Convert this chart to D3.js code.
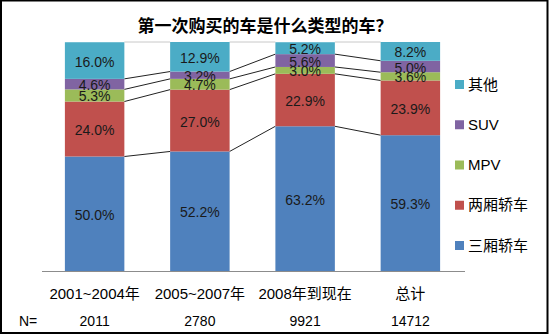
<!DOCTYPE html>
<html lang="zh-cn">
<head>
  <meta charset="UTF-8">
  <title>第一次购买的车是什么类型的车？</title>
  <script src="https://d3js.org/d3.v7.min.js"></script>
  <style>
    body { margin: 0; background: #fff; }
    text { font-family: "Liberation Sans", "Noto Sans CJK SC", sans-serif; }
  </style>
</head>
<body>
  <div id="root"></div>
  <script>
    const categories = ['2001~2004年', '2005~2007年', '2008年到现在', '总计'];
    const counts = ['2011', '2780', '9921', '14712'];
    const seriesNames = ['三厢轿车', '两厢轿车', 'MPV', 'SUV', '其他'];
    const sedan = [50.0, 52.2, 63.2, 59.3];
    const hatch = [24.0, 27.0, 22.9, 23.9];
    const mpv = [5.3, 4.7, 3.0, 3.6];
    const suv = [4.6, 3.2, 5.6, 5.0];
    const other = [16.0, 12.9, 5.2, 8.2];
    const colors = ['#4F81BD', '#C0504D', '#9BBB59', '#8064A2', '#4BACC6'];

    const W = 550, H = 335;
    const svg = d3.select('#root').append('svg').attr('width', W).attr('height', H);

    svg.append('rect').attr('x', 1).attr('y', 0.5).attr('width', 546.5).attr('height', 332.5)
      .attr('fill', '#fff').attr('stroke', '#000').attr('stroke-width', 2);

    svg.append('text').attr('x', 265).attr('y', 32).attr('text-anchor', 'middle')
      .attr('font-size', 17).attr('font-weight', 'bold').attr('fill', '#000')
      .text('第一次购买的车是什么类型的车？');

    const x = d3.scaleBand().domain(categories).range([42, 463])
      .paddingInner(0.435).paddingOuter(0.2175);
    const y = d3.scaleLinear().domain([0, 100]).range([271, 42]);

    const rows = categories.map((c, i) => ({
      cat: c, '三厢轿车': sedan[i], '两厢轿车': hatch[i], 'MPV': mpv[i], 'SUV': suv[i], '其他': other[i]
    }));
    const stack = d3.stack().keys(seriesNames)(rows);

    // connector lines between segment tops
    const g = svg.append('g');
    stack.forEach((s, si) => {
      for (let i = 0; i < categories.length - 1; i++) {
        const top = si === stack.length - 1;
        g.append('line')
          .attr('x1', x(categories[i]) + x.bandwidth()).attr('y1', y(top ? 100 : s[i][1]))
          .attr('x2', x(categories[i + 1])).attr('y2', y(top ? 100 : s[i + 1][1]))
          .attr('stroke', top ? '#c8c8c8' : '#222').attr('stroke-width', 1);
      }
    });

    stack.forEach((s, si) => {
      svg.append('g').selectAll('rect').data(s).enter().append('rect')
        .attr('x', d => x(d.data.cat))
        .attr('y', d => y(d[1]))
        .attr('width', x.bandwidth())
        .attr('height', d => y(d[0]) - y(d[1]))
        .attr('fill', colors[si]);
    });

    stack.forEach(s => {
      svg.append('g').selectAll('text').data(s).enter().append('text')
        .attr('x', d => x(d.data.cat) + x.bandwidth() / 2)
        .attr('y', d => (y(d[0]) + y(d[1])) / 2 + 6)
        .attr('text-anchor', 'middle').attr('font-size', 14).attr('fill', '#1a1a1a')
        .text(d => (d[1] - d[0]).toFixed(1) + '%');
    });

    // baseline
    svg.append('line').attr('x1', 42).attr('x2', 465).attr('y1', 271.5).attr('y2', 271.5)
      .attr('stroke', '#8c8c8c').attr('stroke-width', 1);

    svg.append('g').selectAll('text').data(categories).enter().append('text')
      .attr('x', d => x(d) + x.bandwidth() / 2).attr('y', 299)
      .attr('text-anchor', 'middle').attr('font-size', 15).attr('fill', '#000')
      .text(d => d);

    svg.append('text').attr('x', 19).attr('y', 326).attr('font-size', 14).attr('fill', '#000').text('N=');
    svg.append('g').selectAll('text').data(counts).enter().append('text')
      .attr('x', (d, i) => x(categories[i]) + x.bandwidth() / 2).attr('y', 326)
      .attr('text-anchor', 'middle').attr('font-size', 14).attr('fill', '#000')
      .text(d => d);

    // legend, top item is 其他
    const legendY = d3.scaleLinear().domain([4, 0]).range([84, 245]);
    const leg = svg.append('g').selectAll('g').data(seriesNames).enter().append('g')
      .attr('transform', (d, i) => `translate(455,${legendY(i)})`);
    leg.append('rect').attr('x', 0).attr('y', -4).attr('width', 9).attr('height', 9)
      .attr('fill', (d, i) => colors[i]);
    leg.append('text').attr('x', 13).attr('y', 5.5).attr('font-size', 15).attr('fill', '#000')
      .text(d => d);
  </script>
</body>
</html>
